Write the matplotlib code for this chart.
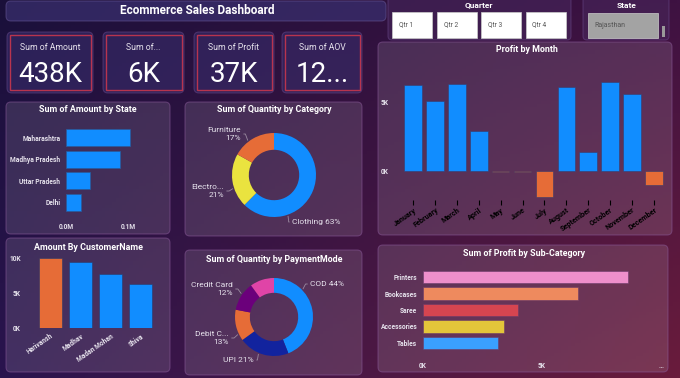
import numpy as np
import matplotlib
matplotlib.use("Agg")
import matplotlib.pyplot as plt
from matplotlib.patches import FancyBboxPatch, Rectangle

W, H = 680, 378

# ---- data ----
kpi_labels = ["Sum of Amount", "Sum of...", "Sum of Profit", "Sum of AOV"]
kpi_values = ["438K", "6K", "37K", "12..."]
quarters = ["Qtr 1", "Qtr 2", "Qtr 3", "Qtr 4"]
state_selected = "Rajasthan"

states = ["Maharashtra", "Madhya Pradesh", "Uttar Pradesh", "Delhi"]
state_amount = [0.103, 0.087, 0.039, 0.024]          # millions

categories = ["Clothing", "Electronics", "Furniture"]
cat_share = [63, 21, 17]
cat_labels = ["Clothing 63%", "Electro...\n21%", "Furniture\n17%"]

customers = ["Harivansh", "Madhav", "Madan Mohan", "Shiva"]
cust_amount = [9.98, 9.4, 7.7, 6.3]                    # thousands

pay_modes = ["COD", "UPI", "Debit Card", "Credit Card", "EMI"]
pay_share = [44, 21, 13, 12, 10]
pay_labels = ["COD 44%", "UPI 21%", "Debit C...\n13%", "Credit Card\n12%", ""]

months = ["January", "February", "March", "April", "May", "June", "July",
          "August", "September", "October", "November", "December"]
month_profit = [6.25, 5.09, 6.3, 2.92, -0.06, -0.08, -1.9, 6.06, 1.35, 6.47, 5.58, -1.0]

subcats = ["Printers", "Bookcases", "Saree", "Accessories", "Tables"]
subcat_profit = [8.6, 6.5, 4.0, 3.4, 3.15]

# ---- styling ----
BLUE = "#118DFF"
ORANGE = "#E66C37"
TXT = "#E6E2EC"
FONT = ["Roboto", "DejaVu Sans"]
plt.rcParams["font.family"] = FONT

fig = plt.figure(figsize=(W / 100, H / 100), dpi=100)

# background gradient
bg = fig.add_axes([0, 0, 1, 1])
bg.set_xlim(0, W)
bg.set_ylim(H, 0)
bg.axis("off")
gx, gy = np.meshgrid(np.linspace(0, 1, 200), np.linspace(0, 1, 120))
tl = np.array([0x1a, 0x10, 0x3a]) / 255
tr = np.array([0x3e, 0x12, 0x42]) / 255
bl = np.array([0x2a, 0x14, 0x4e]) / 255
br = np.array([0x6a, 0x1c, 0x3c]) / 255
grad = ((1 - gx)[..., None] * (1 - gy)[..., None] * tl + gx[..., None] * (1 - gy)[..., None] * tr
        + (1 - gx)[..., None] * gy[..., None] * bl + gx[..., None] * gy[..., None] * br)
bg.imshow(grad, extent=(0, W, H, 0), aspect="auto", zorder=0)


def panel(x0, y0, x1, y1, fc="white", alpha=0.12, ec="#8a5a9a", r=5):
    bg.add_patch(FancyBboxPatch((x0, y0), x1 - x0, y1 - y0,
                                boxstyle=f"round,pad=0,rounding_size={r}",
                                fc=fc, alpha=alpha, ec="none", zorder=1))
    bg.add_patch(FancyBboxPatch((x0, y0), x1 - x0, y1 - y0,
                                boxstyle=f"round,pad=0,rounding_size={r}",
                                fc="none", ec=ec, lw=0.8, alpha=0.5, zorder=1))


def ax_px(x0, y0, x1, y1):
    a = fig.add_axes([x0 / W, 1 - y1 / H, (x1 - x0) / W, (y1 - y0) / H])
    a.patch.set_alpha(0)
    for s in a.spines.values():
        s.set_visible(False)
    return a


def ptitle(x, y, s, size=6.4):
    bg.text(x, y, s, color="white", fontsize=size, fontweight="bold",
            ha="center", va="center", zorder=5)


# title bar
panel(6, 1, 386, 21, fc="#3a3070", alpha=0.7, ec="#6a5a9a")
ptitle(197, 11, "Ecommerce Sales Dashboard", size=8.5)

# KPI cards
for (x0, x1), lab, val in zip([(7, 93), (103, 184), (194, 274), (282, 362)], kpi_labels, kpi_values):
    panel(x0, 32, x1, 93, fc="#3a3070", alpha=0.55, ec="#6a4a8a")
    bg.add_patch(Rectangle((x0 + 2.5, 35), x1 - x0 - 5, 55, fc="none", ec="#b8344e", lw=1.0, zorder=2))
    bg.text((x0 + x1) / 2, 48, lab, color=TXT, fontsize=6.2, ha="center", va="center", zorder=5)
    bg.text((x0 + x1) / 2, 74, val, color="white", fontsize=20, ha="center", va="center", zorder=5)

# slicers
panel(388, -4, 571, 40, fc="#4a2a60", alpha=0.5, ec="#6a4a8a", r=4)
ptitle(479, 5, "Quarter", size=6)
for i, q in enumerate(quarters):
    x0 = 392 + i * 44.5
    bg.add_patch(Rectangle((x0, 12), 40, 26, fc="white", ec="#cccccc", lw=0.5, zorder=3))
    bg.text(x0 + 7, 25, q, color="#555555", fontsize=4.8, va="center", zorder=5)
panel(583, -4, 669, 40, fc="#4a2a60", alpha=0.5, ec="#6a4a8a", r=4)
ptitle(627, 6, "State", size=6)
bg.add_patch(Rectangle((588, 13), 70, 25, fc="#a3a3a3", ec="#cccccc", lw=0.5, zorder=3))
bg.text(594, 25.5, state_selected, color="#555555", fontsize=5, va="center", zorder=5)
bg.add_patch(Rectangle((662, 26), 3, 11, fc="#9a9a9a", zorder=3))

# chart panels
panel(6, 102, 170, 234)
panel(185, 102, 362, 236)
panel(6, 238, 170, 372)
panel(185, 250, 362, 375)
panel(378, 42, 672, 235)
panel(378, 245, 668, 372)

ptitle(88, 110, "Sum of Amount by State")
ptitle(274, 110, "Sum of Quantity by Category")
ptitle(88, 247, "Amount By CustomerName")
ptitle(274, 259, "Sum of Quantity by PaymentMode")
ptitle(527, 50, "Profit by Month")
ptitle(524, 253, "Sum of Profit by Sub-Category")

tick_kw = dict(colors=TXT, labelsize=4.8, length=0)

# --- Sum of Amount by State ---
ax = ax_px(66, 127, 150, 213)
ypos = np.arange(len(states))
ax.barh(ypos, state_amount, height=0.8, color=BLUE, ec="#2a5a9a", lw=0.5)
ax.set_ylim(len(states) - 0.5, -0.5)
ax.set_xlim(0, 0.1355)
ax.set_yticks(ypos, states)
ax.set_xticks([0, 0.1], ["0.0M", "0.1M"])
ax.tick_params(axis="y", pad=4, **tick_kw)
ax.tick_params(axis="x", pad=7, **tick_kw)
for t in ax.get_xticklabels() + ax.get_yticklabels():
    t.set_fontweight("bold")


# --- donut helper ---
def donut(cx, cy, R, width, shares, colors, labels, label_pos, label_ha):
    half = 62
    a = ax_px(cx - half, cy - half, cx + half, cy + half)
    wedges, _ = a.pie(shares, colors=colors, startangle=90, counterclock=False,
                      radius=1, wedgeprops=dict(width=width, ec="none"))
    a.set_xlim(-half / R, half / R)
    a.set_ylim(-half / R, half / R)
    a.set_aspect("equal")
    a.set_xticks([])
    a.set_yticks([])
    for w, lab, (lx, ly), ha in zip(wedges, labels, label_pos, label_ha):
        if not lab:
            continue
        tx, ty = (lx - cx) / R, (cy - ly) / R
        ang = np.degrees(np.arctan2(ty, tx))
        t1, t2 = w.theta1, w.theta2
        ang = (ang - t1) % 360 + t1
        if ang > t2:
            ang = t1 if (ang - t2) > (t1 + 360 - ang) else t2
        ax_, ay_ = 1.04 * np.cos(np.radians(ang)), 1.04 * np.sin(np.radians(ang))
        ex = tx + (-0.02 if ha == "left" else 0.02)
        a.plot([ax_, ax_ + 0.6 * (ex - ax_), ex], [ay_, ty, ty], color="#9a8aa0", lw=0.6, clip_on=False)
        a.text(tx + (0.05 if ha == "left" else -0.05), ty, lab, color=TXT, fontsize=6,
               ha=ha, va="center", linespacing=1.5, clip_on=False)
    return a


donut(274, 175, 42, 0.4, cat_share, [BLUE, "#EAE33F", ORANGE], cat_labels,
      [(290, 222), (226, 191), (243, 134)], ["left", "right", "right"])
donut(274, 317, 39, 0.38, pay_share, [BLUE, "#12239E", ORANGE, "#6B007B", "#E044A7"], pay_labels,
      [(308, 284), (256, 360), (231, 338), (235, 289), (0, 0)], ["left", "right", "right", "right", "left"])

# --- Amount by CustomerName ---
ax = ax_px(32, 252, 159, 328)
xpos = np.arange(len(customers))
ax.bar(xpos, cust_amount, width=0.76, color=[ORANGE] + [BLUE] * 3, ec="#2a3a6a", lw=0.4)
ax.set_xlim(-0.6, len(customers) - 0.4)
ax.set_ylim(0, 10.86)
ax.set_yticks([0, 5, 10], ["0K", "5K", "10K"])
ax.set_xticks(xpos, customers, rotation=35, ha="right", rotation_mode="anchor")
ax.tick_params(axis="y", pad=8, **tick_kw)
ax.tick_params(axis="x", pad=3, **tick_kw)
for t in ax.get_xticklabels() + ax.get_yticklabels():
    t.set_fontweight("bold")

# --- Profit by Month ---
ax = ax_px(400, 60, 667, 200)
mpos = np.arange(len(months))
ax.bar(mpos, month_profit, width=0.8,
       color=[BLUE if v >= 0 else ORANGE for v in month_profit], ec="#3a3a6a", lw=0.4)
ax.set_xlim(-0.6, len(months) - 0.4)
ax.set_ylim(-2.1, 8.04)
ax.set_yticks([0, 5], ["0K", "5K"])
ax.set_xticks(mpos, months, rotation=35, ha="right", rotation_mode="anchor")
ax.tick_params(axis="y", pad=8, **tick_kw)
ax.tick_params(axis="x", pad=1, labelsize=5.2)
for t in ax.get_xticklabels() + ax.get_yticklabels():
    t.set_fontweight("bold")

# --- Sum of Profit by Sub-Category ---
ax = ax_px(423, 269, 661, 351)
spos = np.arange(len(subcats))
ax.barh(spos, subcat_profit, height=0.76,
        color=["#EE8FCB", "#EE8A5E", "#D64550", "#E3C53A", "#3AA0FF"], ec="#6a3a6a", lw=0.4)
ax.set_ylim(len(subcats) - 0.5, -0.5)
ax.set_xlim(0, 10)
ax.set_yticks(spos, subcats)
ax.set_xticks([0, 5, 10], ["0K", "5K", "…"])
ax.tick_params(axis="y", pad=4, **tick_kw)
ax.tick_params(axis="x", pad=8, **tick_kw)
for t in ax.get_xticklabels() + ax.get_yticklabels():
    t.set_fontweight("bold")

fig.savefig("out.png", dpi=100)
